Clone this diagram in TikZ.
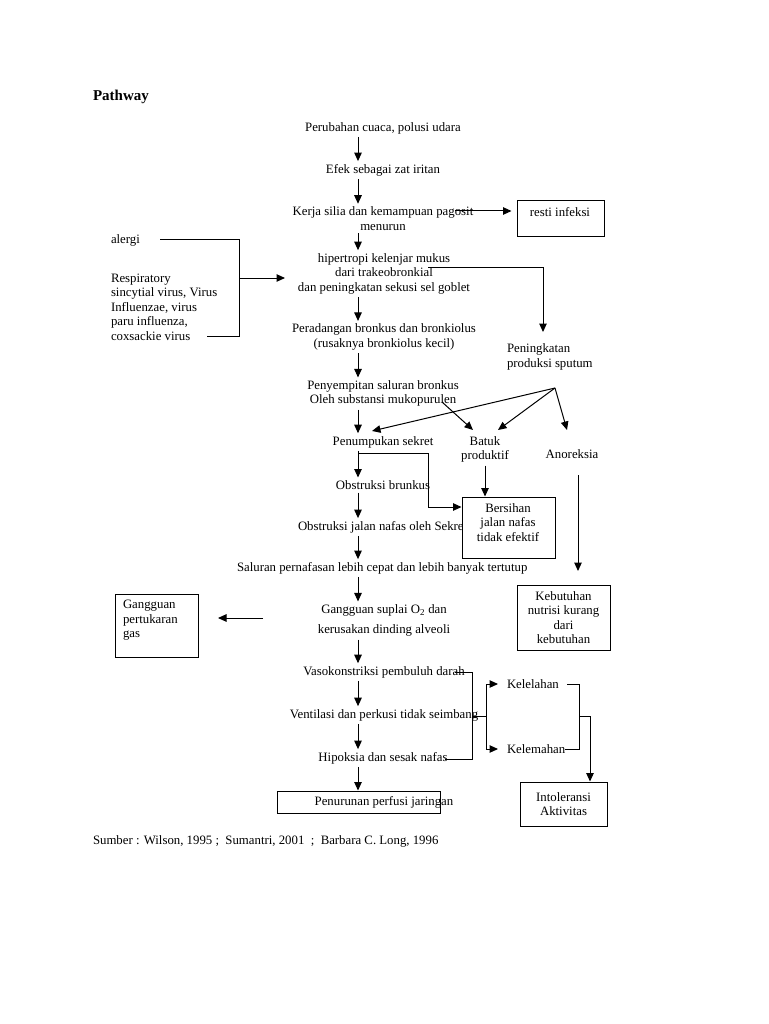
\documentclass[tikz,border=0pt]{standalone}
\usepackage{fontspec}
\setmainfont{Liberation Serif}
\usetikzlibrary{arrows.meta}
\begin{document}
\begin{tikzpicture}[x=1pt,y=-1pt,
  txt/.style={inner sep=0pt,outer sep=3pt,align=center,font=\fontsize{12.8}{14.5}\selectfont},
  ltxt/.style={txt,outer sep=0pt,align=left,anchor=west},
  box/.style={draw,line width=1pt,inner sep=0pt,align=center,font=\fontsize{12.8}{14.5}\selectfont},
  ln/.style={line width=1pt},
  arr/.style={ln,-{Triangle[length=8.5pt,width=7.5pt]}}]
\useasboundingbox[fill=white] (0,0) rectangle (768,1024);
\coordinate (col) at (358,0);
% title
\node[ltxt,font=\bfseries\fontsize{15}{17}\selectfont] (title) at (93,97) {Pathway};
% main column
\node[txt] (n1) at (383,128) {Perubahan cuaca, polusi udara};
\node[txt] (n2) at (383,170) {Efek sebagai zat iritan};
\node[txt] (n3) at (383,218.5) {Kerja silia dan kemampuan pagosit\\menurun};
\node[txt] (n4) at (384,273.5) {hipertropi kelenjar mukus\\dari trakeobronkial\\dan peningkatan sekusi sel goblet};
\node[txt] (n5) at (384,337) {Peradangan bronkus dan bronkiolus\\(rusaknya bronkiolus kecil)};
\node[txt] (n6) at (383,393.5) {Penyempitan saluran bronkus\\Oleh substansi mukopurulen};
\node[txt] (n7) at (383,442) {Penumpukan sekret};
\node[txt] (n8) at (383,485) {Obstruksi brunkus};
\node[ltxt] (n9) at (298,527) {Obstruksi jalan nafas oleh Sekret};
\node[ltxt] (n10) at (237,568) {Saluran pernafasan lebih cepat dan lebih banyak tertutup};
\node[txt] (n11) at (384,620.5) {Gangguan suplai O\textsubscript{2} dan\\[6pt]kerusakan dinding alveoli};
\node[txt] (n12) at (384,672) {Vasokonstriksi pembuluh darah};
\node[txt] (n13) at (384,715) {Ventilasi dan perkusi tidak seimbang};
\node[txt] (n14) at (383,758) {Hipoksia dan sesak nafas};
\node[draw,ln,minimum width=163pt,minimum height=22pt,inner sep=0pt] (pbox) at (358.5,802) {};
\node[txt] (n15) at (384,802) {Penurunan perfusi jaringan};
% main arrows
\draw[arr] (n1.south -| col) -- (n2.north -| col);
\draw[arr] (n2.south -| col) -- (n3.north -| col);
\draw[arr] (n3.south -| col) -- (n4.north -| col);
\draw[arr] (n4.south -| col) -- (n5.north -| col);
\draw[arr] (n5.south -| col) -- (n6.north -| col);
\draw[arr] (n6.south -| col) -- (n7.north -| col);
\draw[arr] (n7.south -| col) -- (n8.north -| col);
\draw[arr] (n8.south -| col) -- ([yshift=3pt]n9.north -| col);
\draw[arr] ([yshift=-3pt]n9.south -| col) -- ([yshift=3pt]n10.north -| col);
\draw[arr] ([yshift=-3pt]n10.south -| col) -- (n11.north -| col);
\draw[arr] (n11.south -| col) -- (n12.north -| col);
\draw[arr] (n12.south -| col) -- (n13.north -| col);
\draw[arr] (n13.south -| col) -- (n14.north -| col);
\draw[arr] (n14.south -| col) -- (pbox.north -| col);
% resti
\node[box,minimum width=87pt,minimum height=35pt] (resti) at (560.5,218.5) {};
\node[txt] (restit) at (560,212) {resti infeksi};
\coordinate (k1) at (455,211);
\draw[arr] (k1) -- ([xshift=-5pt]resti.west |- k1);
% left causes
\node[ltxt] (alergi) at (111,240) {alergi};
\node[ltxt] (resp) at (111,307) {Respiratory\\sincytial virus, Virus\\Influenzae, virus\\paru influenza,\\coxsackie virus};
\coordinate (a1) at (160,239);
\coordinate (a2) at (239,239);
\coordinate (a3) at (239,336);
\coordinate (a4) at (207,336);
\coordinate (a5) at (239,278);
\coordinate (a6) at (285,278);
\draw[ln] (a1) -- (a2) -- (a3) -- (a4);
\draw[arr] (a5) -- (a6);
% sputum
\node[ltxt] (spt) at (507,357) {Peningkatan\\produksi sputum};
\coordinate (h1) at (428,267);
\coordinate (sptin) at (543,332);
\draw[arr] (h1) -| (sptin);
\coordinate (so) at (555,388);
\coordinate (t7) at (372,431);
\node[txt] (bat) at (485,449.5) {Batuk\\produktif};
\node[txt] (anor) at (572,454) {Anoreksia};
\coordinate (tb) at (498,430);
\coordinate (ta) at (567,430);
\draw[arr] (so) -- (t7);
\draw[arr] (so) -- (tb);
\draw[arr] (so) -- (ta);
\coordinate (m1) at (442,402);
\coordinate (m2) at (473,430);
\draw[arr] (m1) -- (m2);
% bersihan
\node[box,fill=white,minimum width=93pt,minimum height=61pt] (bers) at (508.5,527.5) {};
\node[txt] (berst) at (508,522.5) {Bersihan\\jalan nafas\\tidak efektif};
\coordinate (p1) at (358,453);
\coordinate (p2) at (428,507);
\draw[arr] (p1) -| (p2) -- (bers.west |- p2);
\draw[arr] (bat.south) -- (bat.south |- bers.north);
% kebutuhan
\coordinate (an1) at (578,475);
\coordinate (an2) at (578,571);
\draw[arr] (an1) -- (an2);
\node[box,minimum width=93pt,minimum height=65pt] (keb) at (563.5,617.5) {Kebutuhan\\nutrisi kurang\\dari\\kebutuhan};
% gangguan
\node[box,minimum width=83pt,minimum height=63pt] (gbox) at (156.5,625.5) {};
\node[ltxt] (gtxt) at (123,620.5) {Gangguan\\pertukaran\\gas};
\coordinate (g1) at (263,618);
\coordinate (g2) at (218,618);
\draw[arr] (g1) -- (g2);
% kelelahan
\node[ltxt] (kel1) at (507,684) {Kelelahan};
\node[ltxt] (kel2) at (507,749) {Kelemahan};
\coordinate (b1) at (455,672);
\coordinate (b2) at (472,759);
\coordinate (b3) at (445,759);
\coordinate (b4) at (472,716);
\coordinate (b5) at (486,716);
\coordinate (b6) at (486,684);
\coordinate (b7) at (486,749);
\draw[ln] (b1) -| (b2) -- (b3);
\draw[ln] (b4) -- (b5);
\draw[ln] (b6) -- (b7);
\draw[arr,shorten >=9pt] (b6) -- (kel1.west);
\draw[arr,shorten >=9pt] (b7) -- (kel2.west);
\node[box,minimum width=87pt,minimum height=44pt] (intol) at (563.5,804) {Intoleransi\\Aktivitas};
\coordinate (c1) at (567,684);
\coordinate (c2) at (579,749);
\coordinate (c3) at (565,749);
\coordinate (c4) at (579,716);
\coordinate (c5) at (590,716);
\draw[ln] (c1) -| (c2) -- (c3);
\draw[arr] (c4) -| (intol.north -| c5);
% footer
\node[ltxt] (src) at (93,841) {Sumber : Wilson, 1995 ;\ \ Sumantri, 2001\ \ ;\ \ Barbara C. Long, 1996};
\end{tikzpicture}
\end{document}
